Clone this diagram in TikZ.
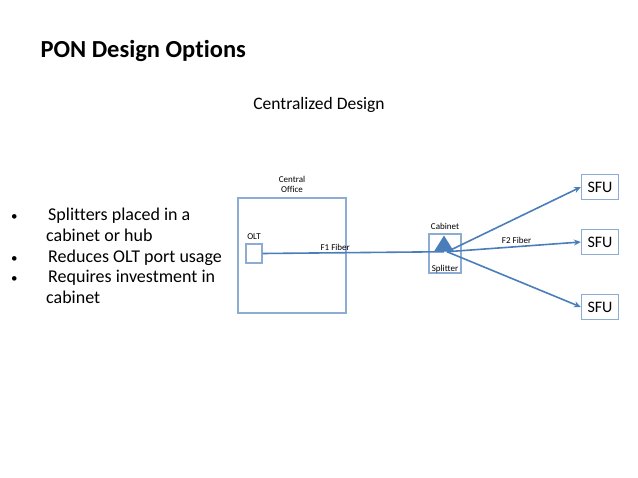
\documentclass[tikz,border=0pt]{standalone}
\usepackage{fontspec}
\setmainfont[Ligatures=NoCommon]{Carlito}
\usetikzlibrary{positioning,arrows.meta,shapes.geometric}
\definecolor{FiberBlue}{RGB}{74,126,187}
\definecolor{BoxBlue}{RGB}{140,172,212}
\newcommand{\bul}{\makebox[40pt][l]{\hspace*{3pt}{\fontsize{13}{13}\selectfont\textbullet}}}

\begin{document}
\begin{tikzpicture}[x=1pt, y=-1pt, every node/.style={font=\fontsize{9}{10}\selectfont, align=center},
    box/.style={draw=BoxBlue, line width=1.2pt, fill=white},
    sfubox/.style={box, minimum width=37pt, minimum height=25pt, font=\fontsize{16}{18}\selectfont},
    fiber/.style={-{Stealth[length=7pt,width=6pt]}, line width=1.6pt, FiberBlue}]
  \useasboundingbox (0,0) rectangle (638,478);
  % titles
  \node[anchor=base west, font=\fontsize{24.5}{28}\selectfont\bfseries] (title) at (37,58) {PON Design Options};
  \node[anchor=base, font=\fontsize{17.5}{20}\selectfont] (design) at (319,110) {Centralized Design};
  % bullet list
  \node[anchor=north west, align=left, font=\fontsize{18}{20.7}\selectfont, inner sep=0pt] (bullets) at (8,208)
    {\bul Splitters placed in a\\
     \hspace*{38pt}cabinet or hub\\
     \bul Reduces OLT port usage\\
     \bul Requires investment in\\
     \hspace*{38pt}cabinet};
  % central office
  \node[box, minimum width=108pt, minimum height=115pt] (co) at (292,255.5) {};
  \node[above=1pt of co] (colabel) {Central\\Office};
  \node[box, minimum width=16pt, minimum height=19pt] (olt) at (254,253.5) {};
  \node[above=0pt of olt] (oltlabel) {OLT};
  % cabinet with splitter
  \node[box, minimum width=32pt, minimum height=39pt] (cab) at (445,253.5) {};
  \node[above=0pt of cab] (cablabel) {Cabinet};
  \node[isosceles triangle, isosceles triangle apex angle=64, shape border rotate=90,
        fill=FiberBlue, inner sep=0pt, minimum height=16pt] (split) at (444,246) {};
  \node[anchor=base] (splitlabel) at (445,272) {Splitter};
  % subscribers
  \node[sfubox] (sfu1) at (600,187) {SFU};
  \node[sfubox] (sfu2) at (600,242) {SFU};
  \node[sfubox] (sfu3) at (600,307) {SFU};
  % fibers
  \draw[line width=1.6pt, FiberBlue] (olt.east) -- (split.south) node[pos=0.4, above=-2pt, black] (f1) {F1 Fiber};
  \draw[fiber] (split.south) ++(3,0) coordinate (fan) -- (sfu1.west);
  \draw[fiber] (fan) -- (sfu2.west) node[pos=0.52, above=-1pt, black] (f2) {F2 Fiber};
  \draw[fiber] (fan) -- (sfu3.west);
\end{tikzpicture}
\end{document}
